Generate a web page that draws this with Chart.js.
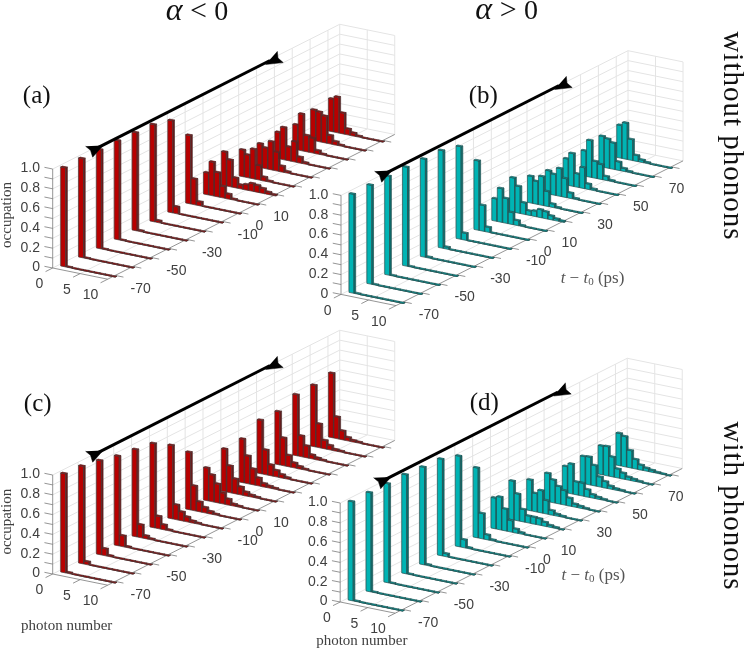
<!DOCTYPE html>
<html>
<head>
<meta charset="utf-8">
<style>html,body{margin:0;padding:0;background:#fff}canvas{display:block}</style>
<script src="https://cdn.jsdelivr.net/npm/chart.js@4"></script>
</head>
<body>
<canvas id="c" width="747" height="649"></canvas>
<script>
// Occupation per time row (index 0 = -70 ps ... index 15 = 80 ps), per photon number. Missing entries are ~0.
const occA = [
 [1.00,.005],[1.00,.005],[1.00,.005],[1.00,.005],[.99,.01],[.98,.02],[.93,.07],
 [.69,.26,.04],
 [.22,.34,.245,.115,.05,.01],
 [.34,.27,.10,.04,.055,.077,.07,.05,.024,.01],
 [.27,.23,.30,.145,.04,.01],
 [.24,.21,.285,.19,.06,.015],
 [.266,.325,.14,.205,.06,.015],
 [.25,.37,.165,.15,.035,.01],
 [.31,.30,.27,.085,.035,.01],
 [.33,.36,.21,.06,.03,.01]
];
const occB = [
 [1.00,.005],[1.00,.005],[1.00,.005],[1.00,.005],[.99,.01],[.985,.02],[.935,.07],
 [.70,.26,.05],
 [.225,.34,.25,.12,.05,.01],
 [.345,.27,.115,.045,.055,.08,.07,.04,.02,.01],
 [.27,.23,.29,.15,.035,.01],
 [.235,.21,.28,.19,.055,.01],
 [.265,.33,.135,.21,.055,.015],
 [.255,.37,.17,.15,.04,.01],
 [.31,.295,.265,.085,.03,.01],
 [.33,.365,.21,.06,.025,.01]
];
const occC = [
 [1.00,.01],[.985,.03],[.95,.07,.01],[.905,.11,.01],[.88,.13,.03,.01],[.85,.125,.05,.01],
 [.74,.15,.09,.05,.02,.01],
 [.58,.25,.10,.055,.025,.01],
 [.33,.27,.19,.11,.06,.02,.01],
 [.43,.27,.15,.08,.04,.02,.01],
 [.44,.28,.16,.08,.035,.02,.01],
 [.54,.25,.11,.065,.035,.015],
 [.535,.28,.115,.05,.025,.01],
 [.615,.21,.12,.04,.02,.01],
 [.62,.24,.085,.045,.015,.01],
 [.65,.22,.09,.035,.015,.01]
];
const occD = [
 [1.00,.005],[1.00,.005],[1.00,.005],[1.00,.005],[.985,.01],[.975,.03],[.915,.08,.01],
 [.705,.255,.05,.01],
 [.31,.33,.22,.115,.04,.015],
 [.39,.27,.125,.07,.07,.065,.04,.02,.01],
 [.31,.185,.225,.135,.045,.02,.01],
 [.285,.23,.175,.145,.08,.03,.02,.01],
 [.265,.30,.13,.13,.075,.035,.02,.01],
 [.275,.28,.205,.10,.065,.03,.015,.01],
 [.29,.295,.20,.09,.06,.03,.02,.01],
 [.325,.305,.175,.095,.05,.03,.02,.01,.005]
];
const zTicks = ['0','0.2','0.4','0.6','0.8','1.0'];
const nTicks = ['0','5','10'];
const tTicksAll = [['-70',0],['-50',2],['-30',4],['-10',6],['0',7],['10',8],['30',10],['50',12],['70',14]];
const tTicksShort = tTicksAll.slice(0,6);

const NBINS = 10, NROWS = 16, RANGE_T = 16.08, RANGE_N = 10;
const RED  = {front:'#b80000', side:'#6e1818', top:'#a80000', edge:'#4a3030'};
const CYAN = {front:'#00b4b4', side:'#0a7070', top:'#00a8a8', edge:'#245050'};
const panels = [
 {id:'a', ox:52.7, oy:268,   occ:occA, col:RED,  t:tTicksShort, lab:[36.7,96.7],  arrow:[0,0]},
 {id:'b', ox:341,  oy:294.4, occ:occB, col:CYAN, t:tTicksAll,   lab:[483.3,96],   arrow:[289,25]},
 {id:'c', ox:52.7, oy:574,   occ:occC, col:RED,  t:tTicksShort, lab:[37.7,404.3], arrow:[0,305]},
 {id:'d', ox:340.2,oy:602,   occ:occD, col:CYAN, t:tTicksAll,   lab:[484.3,403.7],arrow:[288,331.5]}
];
// oblique projection: photon axis a, time axis b (in rows), height z
const NX=5.5, NY=1.12, TX=17.85, TY=-9, ZS=99;
const proj = (p,a,b,z=0)=>({x:p.ox+a*NX+b*TX, y:p.oy+a*NY+b*TY-z*ZS});

const seq = [];
function segs(list){const o=[];list.forEach(([A,B])=>{o.push(A,B,{x:null,y:null});});return o;}
const line = (data,color,w,extra={})=>seq.push(Object.assign({type:'scatter',data,showLine:true,pointRadius:0,borderColor:color,borderWidth:w,fill:false,tension:0},extra));

panels.forEach(p=>{
  // walls and floor grid
  const g=[];
  for(let i=0;i<=10;i++){const z=i/10;
    g.push([proj(p,0,0,z),proj(p,0,RANGE_T,z)]);
    g.push([proj(p,0,RANGE_T,z),proj(p,RANGE_N,RANGE_T,z)]);
  }
  for(let i=0;i<16;i++){g.push([proj(p,0,.42+i,0),proj(p,0,.42+i,1)]);}
  g.push([proj(p,0,RANGE_T,0),proj(p,0,RANGE_T,1)]);
  g.push([proj(p,5,RANGE_T,0),proj(p,5,RANGE_T,1)]);
  g.push([proj(p,10,RANGE_T,0),proj(p,10,RANGE_T,1)]);
  g.push([proj(p,5,0,0),proj(p,5,RANGE_T,0)]);
  line(segs(g),'#e4e4e4',1);
  // axes
  const ax=[[proj(p,0,0,0),proj(p,0,0,1)],[proj(p,0,0,0),proj(p,RANGE_N,0,0)],[proj(p,RANGE_N,0,0),proj(p,RANGE_N,RANGE_T,0)]];
  for(let i=0;i<=10;i++)ax.push([proj(p,0,0,i/10),proj(p,-1.5,0,i/10)]);
  [0,5,10].forEach(n=>ax.push([proj(p,n,0,0),proj(p,n,-.4,0)]));
  for(let i=0;i<16;i++)ax.push([proj(p,RANGE_N,.42+i,0),proj(p,RANGE_N+1.5,.42+i,0)]);
  line(segs(ax),'#7a7a7a',0.8);
  // bar rows, back to front
  for(let r=NROWS-1;r>=0;r--){
    const row=p.occ[r], pts=[];
    for(let k=0;k<NBINS;k++){const q=proj(p,.51+k,.29+r,0);pts.push({x:q.x,y:q.y,occ:row[k]||0});}
    seq.push({type:'scatter',label:'panel '+p.id+' row '+r,data:pts,pointRadius:0,showLine:false,bars3d:true,palette:p.col});
  }
  // arrow
  const dx=p.arrow[0],dy=p.arrow[1];
  line([{x:96+dx,y:148.7+dy},{x:270+dx,y:60.5+dy}],'#000',3);
  const head=(pts)=>line(pts.map(([x,y])=>({x:x+dx,y:y+dy})),'#000',0.5,{fill:'shape',backgroundColor:'#000'});
  head([[85.5,146.2],[90.5,150.3],[92.7,157.2],[103,145.5]]);
  head([[277.3,51.2],[278,58],[283.2,62.6],[265.5,64.5]]);
});
seq.forEach((d,i)=>d.order=seq.length-i);

const bars3d={id:'bars3d',
  afterDatasetDraw(chart,args){
    const ds=chart.data.datasets[args.index];
    if(!ds.bars3d)return;
    const ctx=chart.ctx,c=ds.palette,sy=chart.scales.y;
    const wx=5,wy=1,dx=1.7,dy=-.85;
    const poly=(pts,fill)=>{ctx.beginPath();pts.forEach((q,i)=>i?ctx.lineTo(q[0],q[1]):ctx.moveTo(q[0],q[1]));ctx.closePath();ctx.fillStyle=fill;ctx.fill();ctx.stroke();};
    ctx.save();ctx.strokeStyle=c.edge;ctx.lineWidth=.7;ctx.lineJoin='round';
    args.meta.data.forEach((el,i)=>{
      const raw=ds.data[i],x=el.x,y=el.y;
      const h=y-sy.getPixelForValue(sy.getValueForPixel(y)-raw.occ*ZS);
      poly([[x,y],[x+wx,y+wy],[x+wx,y+wy-h],[x,y-h]],c.front);
      poly([[x+wx,y+wy],[x+wx+dx,y+wy+dy],[x+wx+dx,y+wy+dy-h],[x+wx,y+wy-h]],c.side);
      poly([[x,y-h],[x+wx,y+wy-h],[x+wx+dx,y+wy+dy-h],[x+dx,y+dy-h]],c.top);
    });
    ctx.restore();
  }
};

const SERIF='"Liberation Serif"', SANS='"Liberation Sans"';
function runs(ctx,cx,cy,parts,color){
  ctx.save();ctx.fillStyle=color;ctx.textBaseline='alphabetic';ctx.textAlign='left';
  let w=0;parts.forEach(q=>{ctx.font=q.f;w+=ctx.measureText(q.s).width;});
  let x=cx-w/2;parts.forEach(q=>{ctx.font=q.f;ctx.fillText(q.s,x,cy+(q.dy||0));x+=ctx.measureText(q.s).width;});
  ctx.restore();
}
function rotated(ctx,s,x,y,ang,font,color,spacing){
  ctx.save();ctx.translate(x,y);ctx.rotate(ang);ctx.font=font;ctx.fillStyle=color;ctx.textAlign='center';ctx.textBaseline='middle';
  if(spacing)ctx.letterSpacing=spacing+'px';
  ctx.fillText(s,0,0);ctx.restore();
}
const texts={id:'texts',
  afterDraw(chart){
    const ctx=chart.ctx;const ink='#404040';
    ctx.save();
    panels.forEach(p=>{
      ctx.font='14px '+SANS;ctx.fillStyle=ink;ctx.textBaseline='middle';
      ctx.textAlign='right';
      zTicks.forEach((s,i)=>{const q=proj(p,0,0,i*.2);ctx.fillText(s,q.x-12.7,q.y-.5);});
      nTicks.forEach((s,i)=>{const q=proj(p,i*5,0,0);ctx.fillText(s,q.x-9.5,q.y+16.4);});
      ctx.textAlign='left';
      p.t.forEach(([s,i])=>{const q=proj(p,RANGE_N,.42+i,0);ctx.fillText(s,q.x+15.3,q.y+13.5);});
      ctx.font='25px '+SERIF;ctx.fillStyle='#111';ctx.textAlign='center';
      ctx.fillText('('+p.id+')',p.lab[0],p.lab[1]);
    });
    rotated(ctx,'occupation',7.5,215,-Math.PI/2,'15px '+SERIF,ink);
    rotated(ctx,'occupation',7.5,521.7,-Math.PI/2,'15px '+SERIF,ink);
    ctx.font='15px '+SERIF;ctx.fillStyle=ink;ctx.textAlign='center';ctx.textBaseline='middle';
    ctx.fillText('photon number',66.7,626);
    ctx.fillText('photon number',361.8,641.5);
    const ttl=(x,y,op)=>runs(ctx,x,y,[{s:'α',f:'italic 32px '+SERIF},{s:' '+op+' ',f:'30px '+SERIF},{s:'0',f:'28px '+SERIF}],'#111');
    ttl(197,20,'<');ttl(506.7,19,'>');
    const tl=(x,y)=>runs(ctx,x,y,[{s:'t',f:'italic 17px '+SERIF},{s:' − ',f:'17px '+SERIF},{s:'t',f:'italic 17px '+SERIF},{s:'0',f:'11px '+SERIF,dy:2},{s:' (ps)',f:'17px '+SERIF}],'#555');
    tl(592.5,283);tl(593.3,580);
    rotated(ctx,'without phonons',732,136,Math.PI/2,'29px '+SERIF,'#111',1);
    rotated(ctx,'with phonons',732,506,Math.PI/2,'29px '+SERIF,'#111',1);
    ctx.restore();
  }
};

new Chart(document.getElementById('c').getContext('2d'),{
  type:'scatter',
  data:{datasets:seq},
  options:{
    responsive:false,animation:false,
    layout:{padding:0},
    plugins:{legend:{display:false},tooltip:{enabled:false},title:{display:false}},
    scales:{
      x:{type:'linear',min:0,max:747,display:false},
      y:{type:'linear',min:0,max:649,reverse:true,display:false}
    },
    elements:{line:{borderCapStyle:'butt'}}
  },
  plugins:[bars3d,texts]
});
</script>
</body>
</html>
